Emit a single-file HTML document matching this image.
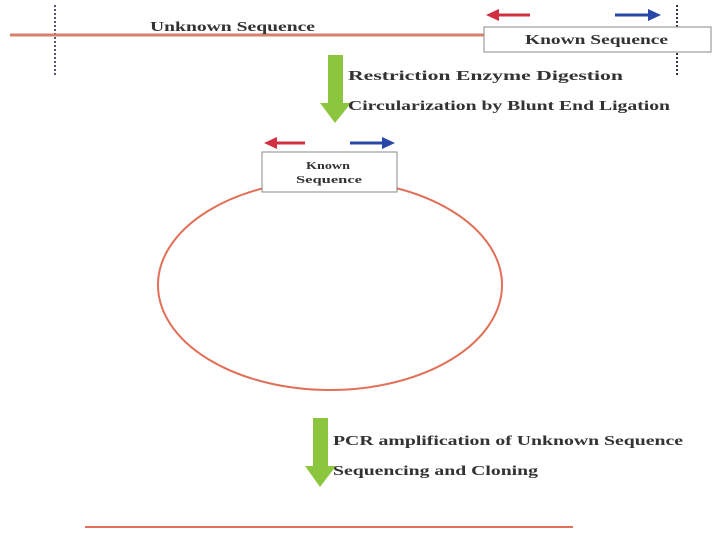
<!DOCTYPE html>
<html><head><style>body{margin:0;background:#fff}svg{display:block}text{font-family:"Liberation Serif",serif;font-weight:bold;fill:#333}</style></head>
<body><svg width="720" height="540" viewBox="0 0 720 540">
<line x1="55" y1="5" x2="55" y2="75" stroke="#557" stroke-width="2" stroke-dasharray="2,2"/>
<line x1="677" y1="5" x2="677" y2="75" stroke="#334" stroke-width="2" stroke-dasharray="2,2"/>
<line x1="10" y1="35" x2="484" y2="35" stroke="#d4806a" stroke-width="3"/>
<text x="150" y="31" font-size="14" textLength="165" lengthAdjust="spacingAndGlyphs">Unknown Sequence</text>
<rect x="484" y="27" width="227" height="25" fill="#fff" stroke="#888"/>
<text x="525" y="44" font-size="14" textLength="143" lengthAdjust="spacingAndGlyphs">Known Sequence</text>
<line x1="497" y1="15" x2="530" y2="15" stroke="#d03040" stroke-width="3"/><polygon points="486,15 499,9 499,21" fill="#d03040"/>
<line x1="615" y1="15" x2="648" y2="15" stroke="#2848a8" stroke-width="3"/><polygon points="661,15 648,9 648,21" fill="#2848a8"/>
<rect x="328" y="55" width="15" height="50" fill="#8cc63f"/><polygon points="320,103 351,103 335,123" fill="#8cc63f"/>
<text x="348" y="80" font-size="14" textLength="275" lengthAdjust="spacingAndGlyphs">Restriction Enzyme Digestion</text>
<text x="348" y="110" font-size="14" textLength="322" lengthAdjust="spacingAndGlyphs">Circularization by Blunt End Ligation</text>
<ellipse cx="330" cy="285" rx="172" ry="105" fill="none" stroke="#e07058" stroke-width="2"/>
<rect x="262" y="152" width="135" height="40" fill="#fff" stroke="#888"/>
<text x="306" y="169" font-size="11" textLength="44" lengthAdjust="spacingAndGlyphs">Known</text>
<text x="296" y="183" font-size="11" textLength="66" lengthAdjust="spacingAndGlyphs">Sequence</text>
<line x1="275" y1="143" x2="305" y2="143" stroke="#d03040" stroke-width="3"/><polygon points="264,143 277,137 277,149" fill="#d03040"/>
<line x1="350" y1="143" x2="383" y2="143" stroke="#2848a8" stroke-width="3"/><polygon points="395,143 382,137 382,149" fill="#2848a8"/>
<rect x="313" y="418" width="15" height="50" fill="#8cc63f"/><polygon points="305,466 336,466 320,487" fill="#8cc63f"/>
<text x="333" y="445" font-size="14" textLength="350" lengthAdjust="spacingAndGlyphs">PCR amplification of Unknown Sequence</text>
<text x="333" y="475" font-size="14" textLength="205" lengthAdjust="spacingAndGlyphs">Sequencing and Cloning</text>
<line x1="85" y1="527" x2="573" y2="527" stroke="#e07058" stroke-width="2"/>
</svg></body></html>
